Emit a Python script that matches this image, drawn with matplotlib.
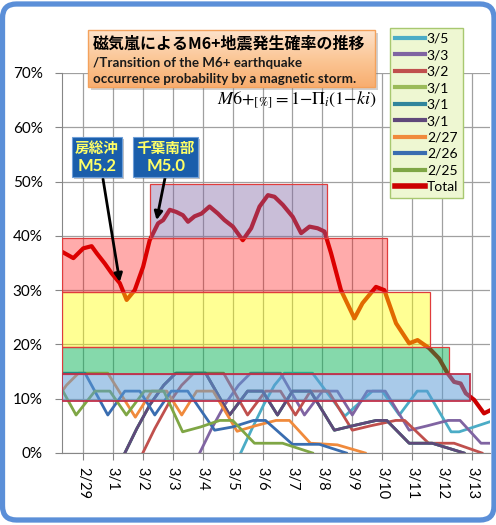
"""M6+ earthquake probability transition chart (magnetic storm based)."""

import matplotlib

matplotlib.use("Agg")
import matplotlib.pyplot as plt
from matplotlib.colors import LinearSegmentedColormap, to_rgba
from matplotlib.lines import Line2D
from matplotlib.patches import FancyBboxPatch, Rectangle
import numpy as np

plt.rcParams["font.family"] = ["Lato", "Noto Sans CJK JP", "DejaVu Sans"]
plt.rcParams["mathtext.fontset"] = "stix"

# x axis in days, 0 = 2/29
day_labels = ["2/29", "3/1", "3/2", "3/3", "3/4", "3/5", "3/6", "3/7",
              "3/8", "3/9", "3/10", "3/11", "3/12", "3/13"]

# individual storm contributions k_i [%]
s35_x = [5.27, 5.65, 6.05, 6.4, 6.73, 7.67, 8.75, 9.67, 10.0, 10.57, 11.17, 11.5, 12.3, 12.57, 13.62, 14.0]
s35_y = [0, 4.5, 9.0, 12.5, 14.7, 14.7, 6.8, 11.4, 11.4, 7.0, 11.4, 11.4, 3.9, 3.9, 5.8, 6.0]

s33_x = [3.9, 4.3, 4.75, 5.2, 5.6, 6.6, 7.4, 8.0, 8.5, 9.0, 9.5, 10.1, 10.9, 11.5, 12.2, 12.6, 13.3, 14.2]
s33_y = [0, 4.5, 9.0, 12.5, 14.7, 14.7, 7.0, 11.4, 11.4, 7.0, 11.4, 11.4, 4.2, 5.0, 6.0, 6.0, 1.8, 1.8]

s32_x = [2.0, 2.4, 2.85, 3.3, 3.7, 4.7, 5.5, 6.1, 6.6, 7.1, 7.6, 8.2, 9.0, 9.6, 10.45, 10.75, 11.55, 12.4, 13.33]
s32_y = [0, 4.5, 9.0, 12.5, 14.7, 14.7, 7.0, 11.4, 11.4, 7.0, 11.4, 11.4, 4.2, 5.0, 6.0, 6.0, 1.8, 1.8, 0]

s31_x = [1.4, 1.8, 2.25, 2.7, 3.1, 4.1, 4.9, 5.5, 6.0, 6.5, 7.0, 7.6, 8.4, 9.0, 9.8, 10.15, 10.9, 11.67, 12.73]
s31_y = [0, 4.5, 9.0, 12.5, 14.7, 14.7, 7.0, 11.4, 11.4, 7.0, 11.4, 11.4, 4.2, 5.0, 6.0, 6.0, 1.8, 1.8, 0]

s227_x = [-1.87, -1.45, -1.0, -0.55, -0.15, 0.83, 1.75, 2.3, 2.8, 3.3, 3.8, 4.35, 5.15, 5.75, 6.45, 6.9, 7.6, 8.5, 9.43]
s227_y = [0, 4.5, 9.0, 12.5, 14.7, 14.7, 6.6, 11.4, 11.4, 7.0, 11.4, 11.4, 4.0, 5.0, 6.0, 6.0, 1.8, 1.5, 0]

s226_x = [-1.5, 0.07, 0.83, 1.4, 1.9, 2.4, 2.95, 3.5, 4.4, 5.0, 5.7, 6.1, 7.0, 7.9, 8.8]
s226_y = [14.7, 14.7, 7.0, 11.4, 11.4, 7.0, 11.4, 11.4, 4.2, 4.8, 6.0, 6.0, 1.6, 1.6, 0]

s225_x = [-1.0, -0.23, 0.4, 0.9, 1.45, 2.05, 2.7, 3.33, 3.93, 4.57, 5.0, 5.73, 6.67, 7.67]
s225_y = [14.7, 7.0, 11.4, 11.4, 7.0, 11.4, 11.4, 3.9, 4.8, 6.0, 6.0, 1.8, 1.8, 0]

total_x = [-0.71, -0.32, 0.01, 0.29, 0.46, 0.73, 0.96, 1.23, 1.46, 1.73, 2.01, 2.23, 2.51,
           2.68, 2.9, 3.12, 3.34, 3.51, 3.73, 3.96, 4.23, 4.51, 4.73, 5.01, 5.34, 5.62,
           5.9, 6.18, 6.4, 6.68, 7.01, 7.29, 7.57, 7.84, 8.07, 8.29, 8.62, 9.07, 9.34,
           9.79, 10.07, 10.46, 10.9, 11.18, 11.57, 11.9, 12.18, 12.4, 12.62, 12.79,
           13.07, 13.4, 13.62]
total_y = [37.1, 35.9, 37.7, 38.1, 36.8, 34.9, 33.1, 31.3, 28.2, 30.0, 34.3, 39.2, 42.3,
           42.9, 44.8, 44.4, 43.8, 42.6, 43.6, 44.1, 45.4, 44.1, 42.9, 41.7, 39.2, 41.4,
           45.4, 47.5, 47.2, 45.7, 43.5, 40.5, 41.7, 41.4, 40.8, 36.8, 30.0, 24.8, 27.6,
           30.6, 30.0, 23.9, 20.2, 20.8, 19.3, 17.4, 14.7, 13.1, 12.8, 11.0, 9.8, 7.3, 7.9]

# probability level bands
band_left = [2.23, -0.7, -0.7, -0.7, -0.7]
band_right = [8.17, 10.17, 11.6, 12.23, 12.93]
band_low = [39.6, 29.6, 19.6, 14.6, 9.6]
band_high = [49.6, 39.6, 29.6, 19.6, 14.6]

# event markers (day, %)
events = [("房総沖", "M5.2", 1.23, 31.5), ("千葉南部", "M5.0", 2.46, 42.9)]

series = [
    ("3/5", s35_x, s35_y, "#4bacc6"),
    ("3/3", s33_x, s33_y, "#8064a2"),
    ("3/2", s32_x, s32_y, "#c0504d"),
    ("3/1", s31_x, s31_y, "#9bbb59"),
    ("3/1", s31_x, s31_y, "#31859c"),
    ("3/1", s31_x, s31_y, "#5f497a"),
    ("2/27", s227_x, s227_y, "#f08a3c"),
    ("2/26", s226_x, s226_y, "#3a6db0"),
    ("2/25", s225_x, s225_y, "#7fa645"),
]
band_colors = [("#8064a2", 0.42), ("#ff0000", 0.33), ("#ffff00", 0.42),
               ("#00b050", 0.48), ("#5b9bd5", 0.52)]

W, H = 496, 525
fig = plt.figure(figsize=(W / 100, H / 100), dpi=100)
fig.patch.set_facecolor("white")
ax = fig.add_axes([62 / W, 72 / H, 428 / W, 380 / H])

handles = []
for name, xs, ys, col in series:
    ax.plot(xs, ys, color=col, lw=2.0, zorder=2, solid_joinstyle="round")
    handles.append(Line2D([], [], color=col, lw=3.0))
ax.plot(total_x, total_y, color="#cc0000", lw=3.0, zorder=3, solid_joinstyle="round")
handles.append(Line2D([], [], color="#cc0000", lw=4.0))

for i, (c, a) in enumerate(band_colors):
    edge = "#c0304a" if i == 4 else "#e03c3c"
    ax.barh(band_low[i], band_right[i] - band_left[i], left=band_left[i],
            height=band_high[i] - band_low[i], align="edge",
            facecolor=to_rgba(c, a), edgecolor=edge, lw=1.3 if i == 4 else 0.9,
            zorder=4)

ax.set_xlim(-0.7, 13.6)
ax.set_ylim(0, 70)
ax.set_xticks(range(len(day_labels)))
ax.set_xticklabels(day_labels, rotation=270)
ax.set_yticks(np.arange(0, 71, 10))
ax.set_yticklabels([f"{v}%" for v in range(0, 71, 10)])
ax.tick_params(axis="y", length=5, pad=9, labelsize=11, color="#868686")
ax.tick_params(axis="x", length=5, pad=5, labelsize=10.5, color="#868686")
ax.grid(color="#a0a0a0", lw=0.9)
ax.set_axisbelow(True)
for side in ["top", "right"]:
    ax.spines[side].set_visible(False)
for side in ["left", "bottom"]:
    ax.spines[side].set_color("#868686")

for (place, mag, ex, ey), start in zip(events, [(103, H - 179), (165, H - 178)]):
    ax.annotate("", xy=(ex, ey), xycoords="data", xytext=start,
                textcoords="figure pixels", zorder=6,
                arrowprops=dict(arrowstyle="-|>", color="black", lw=2.0,
                                mutation_scale=12, shrinkA=0, shrinkB=0))

leg = fig.legend(handles, [s[0] for s in series] + ["Total"], loc="upper left",
                 bbox_to_anchor=(390 / W, 1 - 28 / H), fontsize=10,
                 labelspacing=0.32, handlelength=2.2, handletextpad=0.1,
                 borderpad=0.35, borderaxespad=0, fancybox=False)
leg.get_frame().set_facecolor("#eef7d2")
leg.get_frame().set_edgecolor("#a8c870")
leg.get_frame().set_alpha(1)

# overlay in pixel coordinates for title box, callouts, border
ov = fig.add_axes([0, 0, 1, 1], zorder=10)
ov.set_xlim(0, W)
ov.set_ylim(H, 0)
ov.axis("off")

ov.add_patch(Rectangle((91, 33), 287, 57, fc="#7a7a7a", alpha=0.35, lw=0))
peach = LinearSegmentedColormap.from_list("peach", ["#fde2cb", "#fbc797", "#f8ae70"])
ov.imshow(np.linspace(0, 1, 64).reshape(-1, 1), cmap=peach, aspect="auto",
          extent=(88, 375, 87, 30), origin="upper", zorder=1)
ov.add_patch(Rectangle((88, 30), 287, 57, fc="none", ec="#f4a25c", lw=1, zorder=2))
ov.text(93, 44, "磁気嵐によるM6+地震発生確率の推移", fontsize=11.5, fontweight="bold",
        family=["Noto Sans CJK JP", "DejaVu Sans"], va="center", ha="left", zorder=3)
ov.text(93, 63, "/Transition of the M6+ earthquake", fontsize=9.6,
        fontweight="bold", color="#1a1a1a", va="center", ha="left", zorder=3)
ov.text(93, 79, "occurrence probability by a magnetic storm.", fontsize=9.6,
        fontweight="bold", color="#1a1a1a", va="center", ha="left", zorder=3)

ov.text(377, 100, r"$M6{+}_{[\%]}{=}1{-}\Pi_{i}(1{-}ki)$", fontsize=13,
        ha="right", va="center", zorder=3)

for (place, mag, ex, ey), (bx, bw) in zip(events, [(71.7, 50), (133.3, 65)]):
    ov.add_patch(Rectangle((bx + 2, 138.7), bw, 40, fc="#555555", alpha=0.35, lw=0))
    ov.add_patch(Rectangle((bx, 136.7), bw, 40, fc="#1a5eab", ec="#6f9fd8",
                           lw=0.8, zorder=3))
    ov.text(bx + bw / 2, 147.5, place, fontsize=10.5, fontweight="bold",
            color="#ffff66", family=["Noto Sans CJK JP", "DejaVu Sans"],
            ha="center", va="center", zorder=4)
    ov.text(bx + bw / 2, 166, mag, fontsize=12, fontweight="bold",
            color="#ffff66", ha="center", va="center", zorder=4)

ov.add_patch(FancyBboxPatch((2.5, 4), 491.5, 516,
                            boxstyle="round,pad=0,rounding_size=14",
                            fc="none", ec="#5b8fd8", lw=3.8, zorder=5))

fig.savefig("out.png", dpi=100)
plt.close(fig)
